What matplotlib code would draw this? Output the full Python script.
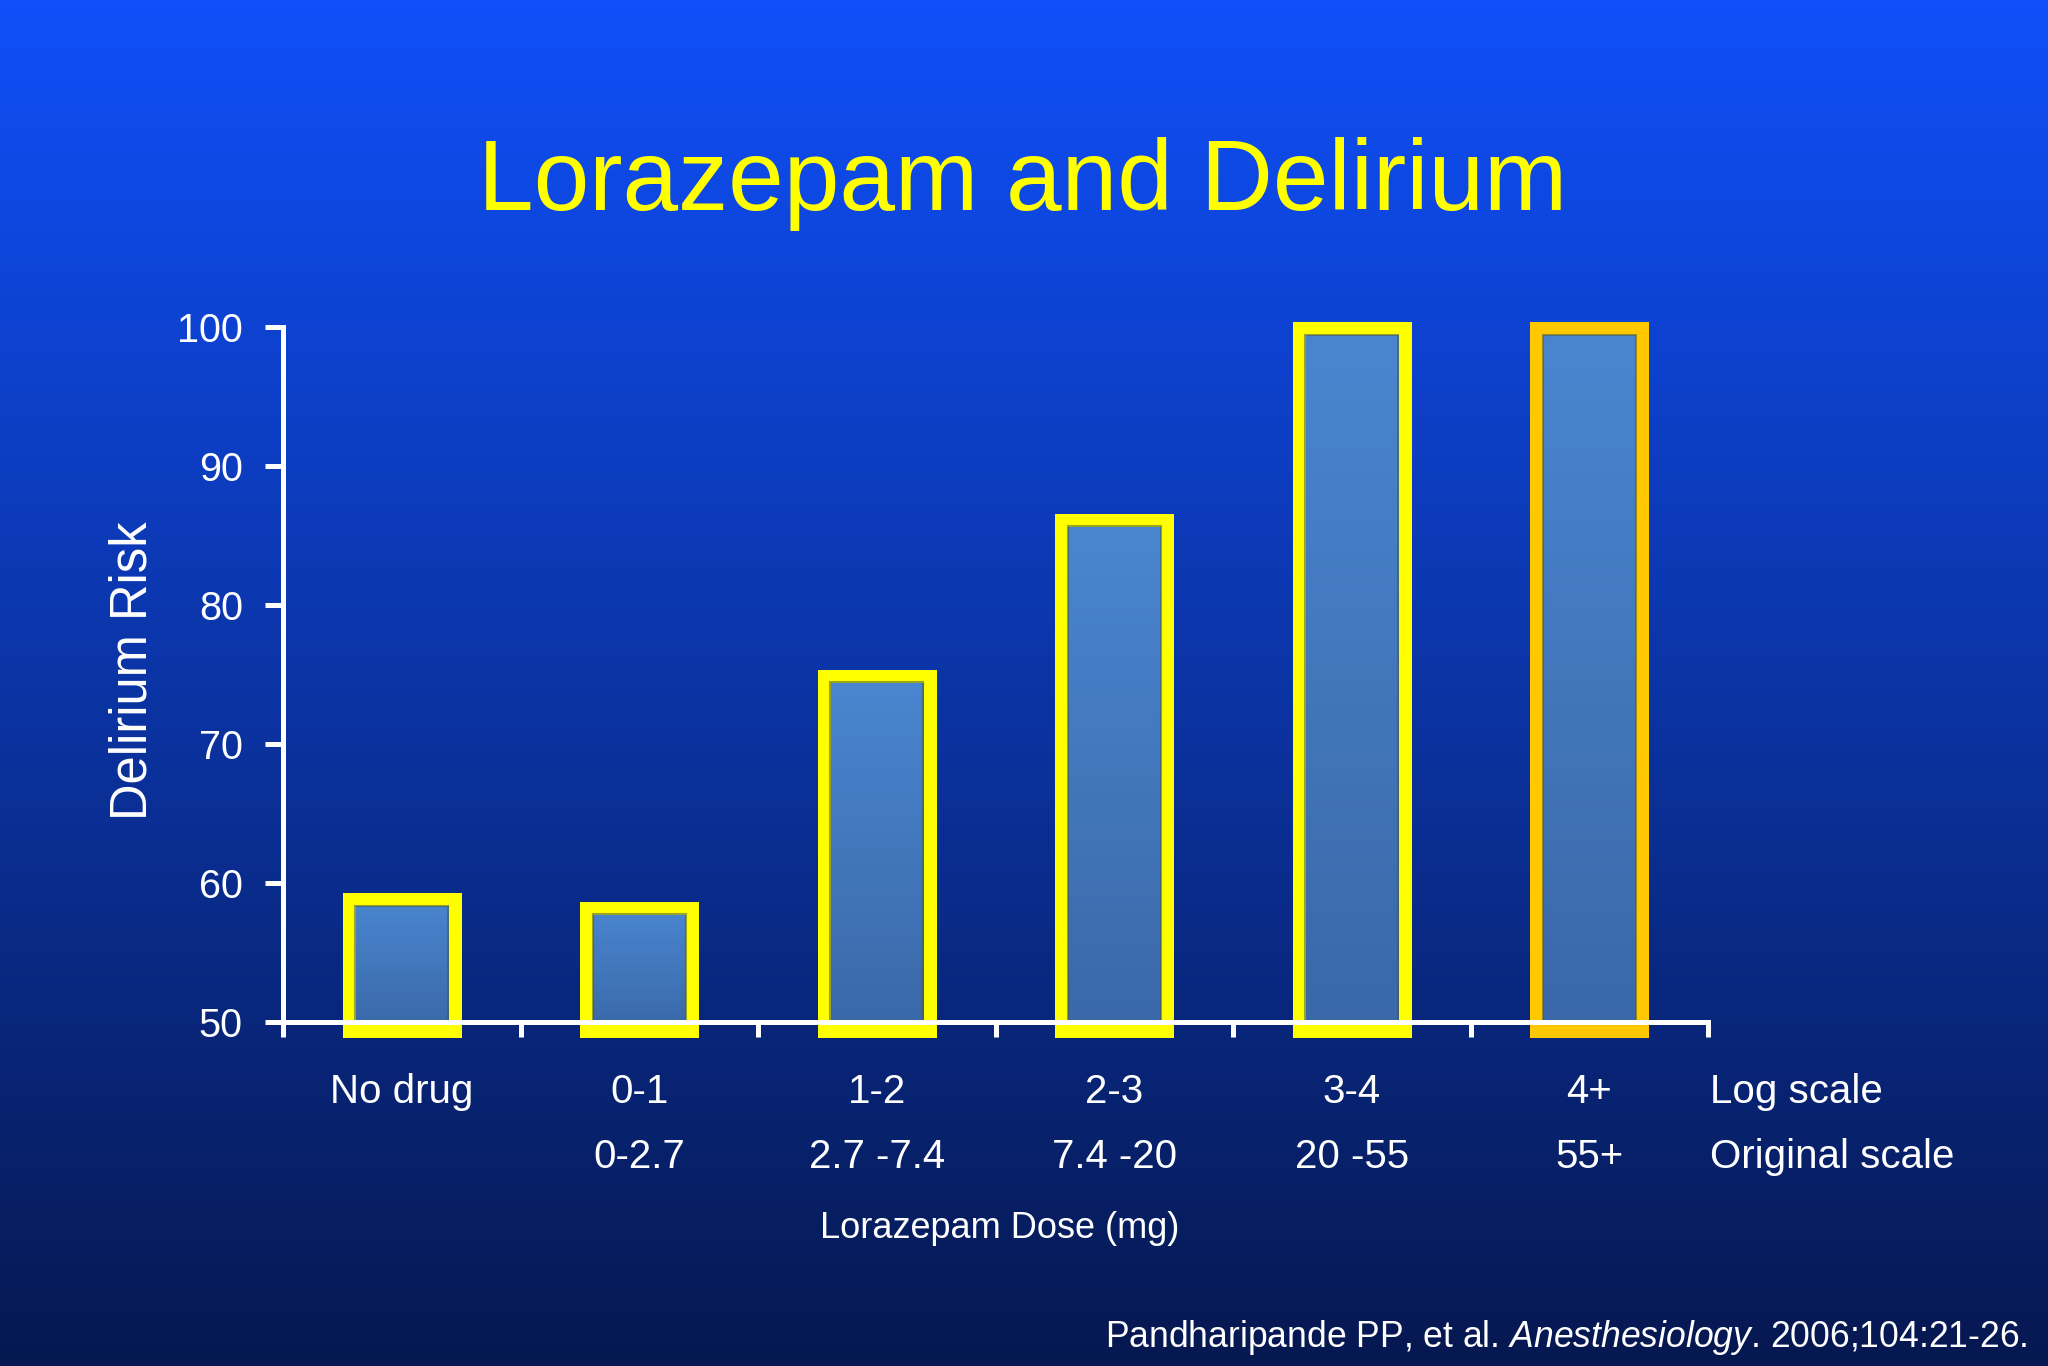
import numpy as np
import matplotlib
matplotlib.use('Agg')
import matplotlib.pyplot as plt
import matplotlib.transforms as mtransforms
from matplotlib.colors import LinearSegmentedColormap
from matplotlib.patches import Rectangle

plt.rcParams['font.family'] = ['Liberation Sans', 'DejaVu Sans']
plt.rcParams['mathtext.fontset'] = 'custom'
plt.rcParams['mathtext.rm'] = 'Liberation Sans'
plt.rcParams['mathtext.it'] = 'Liberation Sans:italic'

# data
log_labels = ['No drug', '0-1', '1-2', '2-3', '3-4', '4+']
orig_labels = ['', '0-2.7', '2.7 -7.4', '7.4 -20', '20 -55', '55+']
risk = [59.3, 58.7, 75.4, 86.6, 100.4, 100.4]
edge_colors = ['#FFFF00', '#FFFF00', '#FFFF00', '#FFFF00', '#FFFF00', '#FFC800']

fig = plt.figure(figsize=(20.48, 13.66), dpi=100)

# background gradient
bg = fig.add_axes([0, 0, 1, 1], zorder=-10)
bg_cmap = LinearSegmentedColormap.from_list('bg', ['#1050FA', '#061850'])
bg.imshow(np.linspace(0, 1, 256).reshape(-1, 1), cmap=bg_cmap, aspect='auto',
          extent=[0, 1, 0, 1])
bg.axis('off')

ax = fig.add_axes([0.1382, 0.2518, 0.834 - 0.1382, 0.7606 - 0.2518])
ax.patch.set_alpha(0)

x = np.arange(len(risk))
base = 48.92
lw_px = 13
inset_x = 0.027
inset_y = 0.47
bars = ax.bar(x, np.array(risk) - base - 2 * inset_y, bottom=base + inset_y,
              width=0.5 - 2 * inset_x, color='none', edgecolor=edge_colors,
              linewidth=lw_px * 72 / 100, clip_on=False, zorder=2)

bar_cmap = LinearSegmentedColormap.from_list('bar', ['#3A68A8', '#4A86D0'])
for b in bars:
    x0, y0 = b.get_x(), b.get_y()
    w, h = b.get_width(), b.get_height()
    im = ax.imshow(np.linspace(0, 1, 128).reshape(-1, 1), cmap=bar_cmap,
                   origin='lower', aspect='auto',
                   extent=[x0, x0 + w, y0, y0 + h], zorder=1.9)
    im.set_clip_path(b)
    im.set_clip_box(fig.bbox)
    # thin dark shadow just inside the yellow frame
    ax.add_patch(Rectangle((x0 + inset_x, y0 + inset_y), w - 2 * inset_x,
                           h - 2 * inset_y, fill=False, edgecolor='#4a5a3a',
                           alpha=0.55, linewidth=1.5, zorder=2.1, clip_on=False))

ax.set_xlim(-0.5, 5.5)
ax.set_ylim(50, 100)
for s in ['top', 'right']:
    ax.spines[s].set_visible(False)
for s in ['left', 'bottom']:
    ax.spines[s].set_color('white')
    ax.spines[s].set_linewidth(3.6)
    ax.spines[s].set_zorder(3)

ax.set_xticks(np.arange(-0.5, 6, 1))
ax.set_xticklabels([])
ax.tick_params(axis='x', direction='out', length=11, width=3.6, color='white')
ax.set_yticks([50, 60, 70, 80, 90, 100])
ax.tick_params(axis='y', direction='out', length=13, width=3.6, colors='white',
               labelsize=28.5, pad=16)

trans = mtransforms.blended_transform_factory(ax.transData, fig.transFigure)
for i in range(len(risk)):
    ax.text(i, 0.2006, log_labels[i], transform=trans, ha='center', va='center',
            color='white', fontsize=29)
    ax.text(i, 0.153, orig_labels[i], transform=trans, ha='center', va='center',
            color='white', fontsize=29)
ax.text(5.51, 0.2006, 'Log scale', transform=trans, ha='left', va='center',
        color='white', fontsize=29)
ax.text(5.51, 0.153, 'Original scale', transform=trans, ha='left', va='center',
        color='white', fontsize=29)

fig.text(0.4995, 0.865, 'Lorazepam and Delirium', ha='center', va='center',
         color='#FFFF00', fontsize=72)
fig.text(0.065, 0.509, 'Delirium Risk', rotation=90, ha='center', va='center',
         color='white', fontsize=36.5)
fig.text(0.488, 0.101, 'Lorazepam Dose (mg)', ha='center', va='center',
         color='white', fontsize=26)

cite_font = ['Liberation Sans Narrow', 'Liberation Sans', 'DejaVu Sans']
fig.text(0.990, 0.021,
         r'Pandharipande PP, et al. $\it{Anesthesiology}$. 2006;104:21-26.',
         ha='right', va='center', color='white', fontsize=25.6, family=cite_font)

fig.savefig('out.png', dpi=100)
